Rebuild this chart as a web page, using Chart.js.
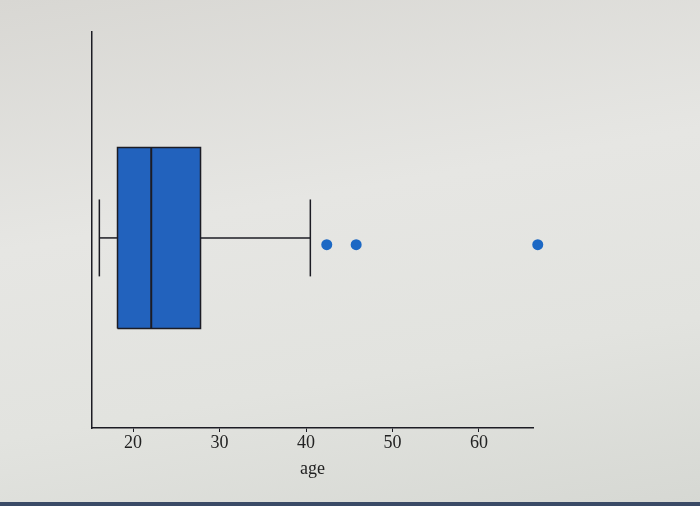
<!DOCTYPE html>
<html lang="en">
<head>
  <meta charset="UTF-8">
  <title>Age box plot</title>
  <script src="https://cdn.jsdelivr.net/npm/chart.js"></script>
  <style>
    html, body { margin: 0; padding: 0; }
    body { width: 700px; height: 506px; overflow: hidden; position: relative;
           background: linear-gradient(170deg, #d8d7d3 0%, #e6e6e3 40%, #e2e3df 70%, #d6d8d3 100%); }
    canvas { position: absolute; left: 0; top: 0; }
    .edge { position: absolute; left: 0; bottom: 0; width: 700px; height: 4px; background: #3a4a66; }
  </style>
</head>
<body>
  <canvas id="chart" width="700" height="503"></canvas>
  <div class="edge"></div>

  <script>
    // five number summary + outliers
    const whiskerLow = 16.1;
    const q1 = 18.2;
    const median = 22.1;
    const q3 = 27.8;
    const whiskerHigh = 40.5;
    const outliers = [42.4, 45.8, 66.8];
    const ageTicks = [20, 30, 40, 50, 60];

    const boxH = 0.4, capH = 0.17;
    const ink = '#1c1c24';

    const boxShape = [
      { x: q1, y: -boxH }, { x: q3, y: -boxH }, { x: q3, y: boxH },
      { x: q1, y: boxH }, { x: q1, y: -boxH }
    ];

    const seg = (pts, extra) => Object.assign({
      data: pts, showLine: true, pointRadius: 0, borderColor: ink,
      borderWidth: 1.5, fill: false, order: 1
    }, extra || {});

    new Chart(document.getElementById('chart'), {
      type: 'scatter',
      data: {
        datasets: [
          // box drawn first so median sits on top
          seg(boxShape, { backgroundColor: '#2262bd', fill: 'shape', order: 5 }),
          seg([{ x: median, y: -boxH }, { x: median, y: boxH }], { borderWidth: 2 }),
          seg([{ x: whiskerLow, y: 0 }, { x: q1, y: 0 }]),
          seg([{ x: q3, y: 0 }, { x: whiskerHigh, y: 0 }]),
          seg([{ x: whiskerLow, y: -capH }, { x: whiskerLow, y: capH }]),
          seg([{ x: whiskerHigh, y: -capH }, { x: whiskerHigh, y: capH }]),
          {
            data: outliers.map(v => ({ x: v, y: -0.03 })),
            pointRadius: 5.5, pointBackgroundColor: '#1c68c4', pointBorderWidth: 0,
            clip: false, order: 0
          }
        ]
      },
      options: {
        responsive: false,
        animation: false,
        layout: { padding: { left: 92, right: 167, top: 32, bottom: 23 } },
        plugins: { legend: { display: false }, tooltip: { enabled: false } },
        scales: {
          x: {
            type: 'linear', min: 15.25, max: 66.25,
            afterBuildTicks: ax => { ax.ticks = ageTicks.map(v => ({ value: v })); },
            afterFit: ax => { ax.height = 52; },
            border: { display: true, color: ink, width: 1.5 },
            grid: { drawOnChartArea: false, tickLength: 4, color: ink },
            ticks: { color: '#222', padding: 0, font: { family: 'Liberation Serif', size: 18 } },
            title: { display: true, text: 'age', color: '#222', padding: { top: 0, bottom: 0 },
                     font: { family: 'Liberation Serif', size: 18 } }
          },
          y: {
            type: 'linear', min: -0.84, max: 0.91,
            afterFit: ax => { ax.width = 0; },
            border: { display: true, color: ink, width: 1.5 },
            grid: { display: false },
            ticks: { display: false }
          }
        }
      }
    });
  </script>
</body>
</html>
